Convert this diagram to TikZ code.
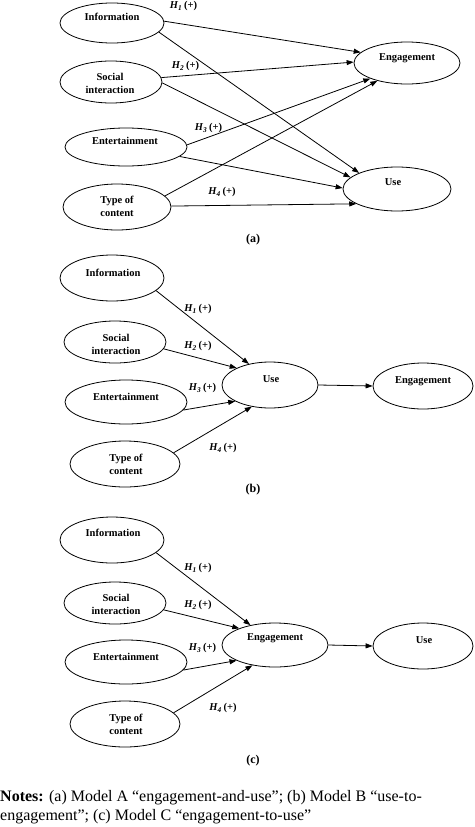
\documentclass[tikz,border=0pt]{standalone}
\usepackage{fontspec}
\setmainfont{Liberation Serif}
\usetikzlibrary{shapes.geometric,arrows.meta}
\newcommand\hyp[1]{{\itshape H}\textsubscript{\itshape #1}\,(+)}
\begin{document}
\begin{tikzpicture}[x=1pt,y=-1pt,
  ell/.style={draw,ellipse,line width=0.8pt,inner sep=0pt},
  lab/.style={font=\fontsize{10.5}{13}\selectfont\bfseries,align=center,inner sep=0pt},
  hl/.style={font=\fontsize{10.5}{13}\selectfont\bfseries,inner sep=0pt},
  pcap/.style={font=\fontsize{12}{14}\selectfont\bfseries,inner sep=0pt},
  note/.style={font=\fontsize{16}{18.3}\selectfont,inner sep=0pt,anchor=base west},
  arr/.style={line width=0.8pt,-{Triangle[length=7pt,width=5pt]}}]
\useasboundingbox[fill=white] (0,0) rectangle (474,827);

% ---------------- (a)
\node[ell,minimum width=104pt,minimum height=40pt] (ia) at (112,23) {};
\node[ell,minimum width=102pt,minimum height=42pt] (sa) at (111,82) {};
\node[ell,minimum width=122pt,minimum height=38pt] (ea) at (126,147) {};
\node[ell,minimum width=108pt,minimum height=46pt] (ta) at (117,207) {};
\node[ell,minimum width=106pt,minimum height=42pt] (ga) at (407,63) {};
\node[ell,minimum width=108pt,minimum height=44pt] (ua) at (397,189) {};
\node[lab] (iat) at (112,17) {Information};
\node[lab] (sat) at (110,83.5) {Social\\interaction};
\node[lab] (eat) at (125,141) {Entertainment};
\node[lab] (tat) at (117,206) {Type of\\content};
\node[lab] (gat) at (407,58) {Engagement};
\node[lab] (uat) at (393,182) {Use};
\node[hl] (h1a) at (183.5,6) {\hyp{1}};
\node[hl] (h2a) at (185.5,66) {\hyp{2}};
\node[hl] (h3a) at (208.5,128) {\hyp{3}};
\node[hl] (h4a) at (222,192) {\hyp{4}};
\draw[arr] (ia.2) -- (ga.167);
\draw[arr] (ia.-11) -- (ua.157);
\draw[arr] (sa.5) -- (ga.179);
\draw[arr] (sa.-1) -- (ua.166);
\draw[arr] (ea.2) -- (ga.203);
\draw[arr] (ea.-10) -- (ua.179);
\draw[arr] (ta.13) -- (ga.211);
\draw[arr] (ta.1) -- (ua.200);
\node[pcap] (capa) at (253,240) {(a)};

% ---------------- (b)
\node[ell,minimum width=104pt,minimum height=46pt] (ib) at (112,278) {};
\node[ell,minimum width=102pt,minimum height=42pt] (sb) at (115,342) {};
\node[ell,minimum width=122pt,minimum height=44pt] (eb) at (126,402) {};
\node[ell,minimum width=110pt,minimum height=46pt] (tb) at (125,464) {};
\node[ell,minimum width=96pt,minimum height=46pt] (ub) at (270,385) {};
\node[ell,minimum width=100pt,minimum height=46pt] (gb) at (423,386) {};
\node[lab] (ibt) at (113,273) {Information};
\node[lab] (sbt) at (116,344.5) {Social\\interaction};
\node[lab] (ebt) at (126,397) {Entertainment};
\node[lab] (tbt) at (126,464.5) {Type of\\content};
\node[lab] (ubt) at (271,379) {Use};
\node[lab] (gbt) at (423,381) {Engagement};
\node[hl] (h1b) at (198,309) {\hyp{1}};
\node[hl] (h2b) at (198,346) {\hyp{2}};
\node[hl] (h3b) at (202.5,388) {\hyp{3}};
\node[hl] (h4b) at (223,448) {\hyp{4}};
\draw[arr] (ib.-16) -- (ub.135);
\draw[arr] (sb.-8) -- (ub.153);
\draw[arr] (eb.-8) -- (ub.205);
\draw[arr] (tb.13) -- (ub.230);
\draw[arr] (ub.east) -- (gb.west);
\node[pcap] (capb) at (253,490) {(b)};

% ---------------- (c)
\node[ell,minimum width=104pt,minimum height=46pt] (ic) at (112,540) {};
\node[ell,minimum width=102pt,minimum height=42pt] (sc) at (115,603) {};
\node[ell,minimum width=122pt,minimum height=44pt] (ec) at (126,662) {};
\node[ell,minimum width=110pt,minimum height=46pt] (tc) at (125,724) {};
\node[ell,minimum width=106pt,minimum height=44pt] (gc) at (275,645) {};
\node[ell,minimum width=100pt,minimum height=46pt] (uc) at (423,646) {};
\node[lab] (ict) at (113,533) {Information};
\node[lab] (sct) at (116,604.5) {Social\\interaction};
\node[lab] (ect) at (126,657) {Entertainment};
\node[lab] (tct) at (126,724.5) {Type of\\content};
\node[lab] (gct) at (275,638) {Engagement};
\node[lab] (uct) at (424,640) {Use};
\node[hl] (h1c) at (198,568) {\hyp{1}};
\node[hl] (h2c) at (198,605) {\hyp{2}};
\node[hl] (h3c) at (202.5,648) {\hyp{3}};
\node[hl] (h4c) at (223,708) {\hyp{4}};
\draw[arr] (ic.-16) -- (gc.141);
\draw[arr] (sc.-8) -- (gc.155);
\draw[arr] (ec.-8) -- (gc.202);
\draw[arr] (tc.13) -- (gc.222);
\draw[arr] (gc.east) -- (uc.west);
\node[pcap] (capc) at (253,761) {(c)};

% ---------------- notes
\node[note] (n1) at (0,801.7) {\textbf{Notes:} (a) Model A “engagement-and-use”; (b) Model B “use-to-};
\node[note] (n2) at (0,820) {engagement”; (c) Model C “engagement-to-use”};
\end{tikzpicture}
\end{document}
